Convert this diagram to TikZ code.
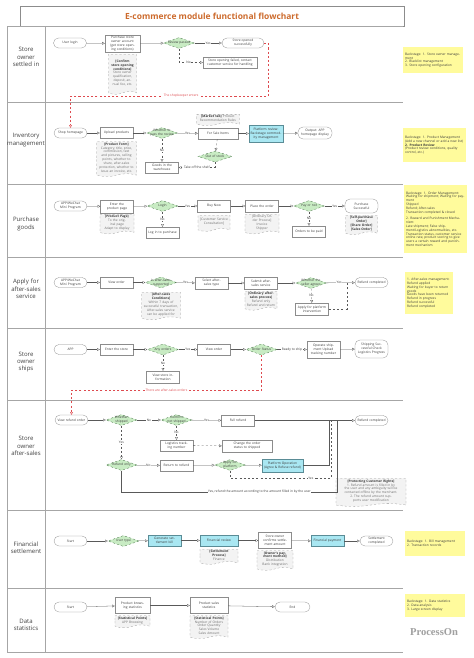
\documentclass[tikz,border=0pt]{standalone}
\usepackage{fontspec}
\setmainfont{Open Sans}
\newfontfamily\brandfont{Liberation Serif}
\usepackage{xcolor}
\usepackage{tikz}
\usetikzlibrary{shapes.geometric}
\usetikzlibrary{shapes.symbols}
\usetikzlibrary{arrows.meta}
\usetikzlibrary{positioning}

\definecolor{linegray}{HTML}{8C8C8C}
\definecolor{arrowgray}{HTML}{595959}
\definecolor{lanegray}{HTML}{A6A6A6}
\definecolor{txtgray}{HTML}{3A3A3A}
\definecolor{docgray}{HTML}{6E6E6E}
\definecolor{docline}{HTML}{9A9A9A}
\definecolor{docfill}{HTML}{F3F3F3}
\definecolor{checkgreen}{HTML}{C8EBC3}
\definecolor{checkline}{HTML}{3D6B3D}
\definecolor{syscyan}{HTML}{A9E7F2}
\definecolor{sysline}{HTML}{5A8C96}
\definecolor{noteyellow}{HTML}{FFFB9C}
\definecolor{enterred}{HTML}{DE4A4F}
\definecolor{titleorange}{HTML}{CC6A2C}
\definecolor{lanetext}{HTML}{404040}

\newcommand{\flowfont}{\fontsize{4.6}{5.5}\selectfont}
\newcommand{\lanefont}{\fontsize{8.6}{10.4}\selectfont}
\newcommand{\doctitle}[1]{\textcolor{txtgray}{\textbf{#1}}}

\begin{document}
\begin{tikzpicture}[x=0.5mm,y=-0.5mm,
	every node/.style={font=\flowfont, text=txtgray},
	term/.style={rectangle, rounded corners=2.5mm, draw=linegray, fill=white, text width=15mm, align=center, inner sep=0.4mm, minimum width=16.5mm, minimum height=5mm},
	proc/.style={rectangle, draw=linegray, fill=white, text width=15.5mm, align=center, inner sep=0.4mm, minimum width=16.5mm, minimum height=5.5mm},
	sys/.style={proc, fill=syscyan, draw=sysline},
	check/.style={diamond, aspect=3, draw=checkline, dashed, fill=checkgreen, text width=12mm, align=center, inner xsep=-2.5mm, inner ysep=-1.5mm, minimum width=15.5mm, minimum height=5.5mm},
	doc/.style={tape, tape bend top=none, tape bend height=1.4mm, draw=docline, dashed, fill=docfill, text=docgray, text width=15mm, align=center, inner sep=0.5mm, minimum width=16mm},
	note/.style={rectangle, fill=noteyellow, anchor=north west, align=left, inner sep=1mm},
	lane/.style={font=\lanefont, text=lanetext, text width=19mm, align=center},
	lbl/.style={fill=white, inner sep=0.2mm},
	flow/.style={draw=arrowgray, line width=0.4pt, -{Triangle[open, length=1.4mm, width=1.4mm]}},
	enter/.style={draw=enterred, dashed, line width=0.5pt, -{Triangle[open, length=1.4mm, width=1.4mm]}},
	red label/.style={fill=white, text=enterred, inner sep=0.3mm}
	]
	\useasboundingbox (0,0) rectangle (474,658);
	
	% Frame and lanes
	\draw[linegray, line width=0.8pt] (20,6) rectangle (404,26);
	\node[font=\fontsize{12}{14}\selectfont\bfseries, text=titleorange] (title) at (212,16) {E-commerce module functional flowchart};
	\draw[lanegray, line width=1pt] (7,26) -- (7,652);
	\draw[lanegray, line width=1pt] (45,26) -- (45,652);
	\foreach \y in {26,102,184,257,328,400,510,588,652}
		\draw[lanegray, line width=1pt] (7,\y) -- (403,\y);
	
	\node[lane] (lane1) at (26,57) {Store\\ owner\\ settled in};
	\node[lane] (lane2) at (26,140) {Inventory\\ management};
	\node[lane] (lane3) at (26,224) {Purchase\\ goods};
	\node[lane] (lane4) at (26,289) {Apply for\\ after-sales\\ service};
	\node[lane] (lane5) at (26,362) {Store\\ owner\\ ships};
	\node[lane] (lane6) at (26,446) {Store\\ owner\\ after-sales};
	\node[lane] (lane7) at (26,548) {Financial\\ settlement};
	\node[lane] (lane8) at (26,625) {Data\\ statistics};
	
	% Store owner settled in
	\node[term] (login) at (70,43) {User login};
	\node[proc, minimum width=17.5mm, text width=16mm, minimum height=8.5mm] (buyacct) at (122.5,43.5) {Purchase store owner account (get store opening conditions)};
	\node[doc, text width=13mm, minimum width=14mm, minimum height=20mm, below=1mm of buyacct] (confirmdoc) {\doctitle{[Confirm store opening conditions]}\\ Store owner qualification, deposit, annual fee, etc.};
	\node[check] (chk1) at (179,43) {Review passed};
	\node[term, minimum width=21mm, text width=15mm] (opened) at (243,43) {Store opened successfully};
	\node[proc, minimum width=27mm, text width=25mm] (failed) at (230,62.5) {Store opening failed, contact customer service for handling};
	\node[note, text width=28mm, minimum width=30mm, minimum height=13mm] (note1) at (403,47) {Backstage: 1. Store owner management\\ 2. Blacklist management\\ 3. Store opening configuration};
	
	\path[flow]
		(login) edge (buyacct)
		(buyacct) edge (chk1)
		(chk1) edge node[lbl] {Yes} (opened);
	\draw[flow, dashed] (chk1) |- node[lbl, pos=0.7] {No} (failed);
	
	% Inventory management
	\node[term] (home) at (70.5,133) {Shop homepage};
	\node[proc] (upload) at (116.5,133) {Upload products};
	\node[doc, minimum width=20mm, text width=18.5mm, below=1.5mm of upload] (formdoc) {\doctitle{[Product Form]} Category, title, price, commission, text and pictures, selling points, whether to share, after-sales protection, whether to issue an invoice, etc.};
	\node[check] (chk2) at (162,133) {Whether to pass the review};
	\node[proc, minimum width=20mm, text width=18mm] (onsale) at (218,133.5) {For Sale Items};
	\node[doc, minimum width=21.5mm, text width=20mm, above=2.5mm of onsale] (mktdoc) {\doctitle{[Market tab]} Product Recommendation Rules};
	\node[proc] (warehouse) at (162,167.5) {Goods in the warehouse};
	\node[check, minimum width=17mm] (chk3) at (215,156.5) {Out of stock};
	\node[sys, minimum width=17mm, minimum height=8.5mm] (review) at (266,133.5) {Platform review: Backstage commodity management};
	\node[term, minimum width=17mm, minimum height=6mm] (output) at (315,133) {Output: APP homepage display};
	\node[note, text width=29.5mm, minimum width=31.5mm, minimum height=17mm] (note2) at (403,128) {Backstage: 1. Product Management (Add a new channel or add a new list)\\ \textbf{2. Product Review}\\ (Product review conditions, quality control, etc.)};
	
	\draw[enter] (opened.east) -- ++(4,0) -- ++(0,53) -| node[red label, pos=0.22] {The shopkeeper enters} (home);
	
	\path[flow]
		(home) edge (upload)
		(upload) edge (chk2)
		(chk2) edge node[lbl] {Yes} (onsale)
		(onsale) edge (review)
		(review) edge (output);
	\path[flow, dashed]
		(chk2) edge node[lbl] {No} (warehouse)
		(onsale) edge (chk3);
	\draw[flow, dashed] (chk3) |- node[lbl, pos=0.75] {Take off the shelf} (warehouse);
	
	% Purchase goods
	\node[term] (app3) at (70.5,206) {APP/WeChat Mini Program};
	\node[proc, minimum height=6.5mm] (prodpage) at (117,206.5) {Enter the product page};
	\node[doc, minimum width=17mm, below=0.5mm of prodpage] (pagedoc) {\doctitle{[Product Page]}\\ To the original page\\ Adapt to display};
	\node[check] (chk4) at (162.5,206) {Login};
	\node[proc, minimum height=6mm] (buynow) at (214,206) {Buy Now};
	\node[doc, minimum height=8mm, below=1.5mm of buynow] (csdoc) {[Customer Service Consultation]};
	\node[proc] (loginbuy) at (162.5,232.5) {Log in to purchase};
	\node[proc, minimum height=6mm] (order) at (262,206) {Place the order};
	\node[doc, minimum width=17mm, below=1mm of order] (orddoc) {[Ordinary Order Process]\\ Invoice\\ Shipper};
	\node[check] (chk5) at (309,206) {Pay or not};
	\node[term, minimum height=7mm] (bought) at (361.5,206) {Purchase Successful};
	\node[doc, below=1mm of bought] (selfdoc) {\doctitle{[Self-purchase Order]}\\ \doctitle{[Share Order]}\\ \doctitle{[Sales Order]}};
	\node[proc] (unpaid) at (309,231.5) {Orders to be paid};
	\node[note, text width=29.5mm, minimum width=31.5mm, minimum height=34mm] (note3) at (404,185) {Backstage: 1. Order Management: Waiting for shipment; Waiting for payment\\ Shipped\\ Refund; After-sales\\ Transaction completed \& closed\\[1.2mm] 2. Reward and Punishment Mechanism:\\ Late shipment; False shipment/Logistics abnormalities, etc. Transaction status, customer service online rate, product scoring to give users a certain reward and punishment mechanism};
	
	\path[flow]
		(app3) edge (prodpage)
		(prodpage) edge (chk4)
		(chk4) edge node[lbl] {Yes} (buynow)
		(buynow) edge (order)
		(order) edge (chk5)
		(chk5) edge node[lbl] {Yes} (bought);
	\path[flow, dashed]
		(chk4) edge node[lbl] {No} (loginbuy)
		(chk5) edge node[lbl] {No} (unpaid);
	
	% Apply for after-sales service
	\node[term] (app4) at (70.5,282.5) {APP/WeChat Mini Program};
	\node[proc] (vieword) at (116.5,282.5) {View order};
	\node[check] (chk6) at (161,282.5) {Is after-sales supported};
	\node[doc, minimum width=19.5mm, text width=18mm, below=2mm of chk6] (asdoc) {\doctitle{[After-sales Conditions]}\\ Within 7 days of successful transaction, After-sales service can be applied for};
	\node[proc, minimum height=6mm] (seltype) at (211.5,283) {Select after-sales type};
	\node[proc, minimum height=6mm] (submit) at (261,283) {Submit after-sales service};
	\node[doc, below=1mm of submit] (asprocdoc) {\doctitle{[Ordinary after-sales process]}\\ Refund only\\ Refund and return};
	\node[check] (chk7) at (311,283) {Whether the seller agrees};
	\node[term] (refund4) at (371.5,282.5) {Refund completed};
	\node[proc, minimum height=6mm] (intervene) at (312,309) {Apply for platform intervention};
	\node[note, text width=22mm, minimum width=24mm, minimum height=21mm] (note4) at (405,272) {1. After-sales management: Refund applied\\ Waiting for buyer to return goods\\ Goods have been returned\\ Refund in progress\\ Refund successful\\ Refund completed};
	\coordinate (join4) at (347,283);
	
	\path[flow]
		(app4) edge (vieword)
		(vieword) edge (chk6)
		(chk6) edge node[lbl] {Yes} (seltype)
		(seltype) edge (submit)
		(submit) edge (chk7)
		(chk7) edge node[lbl, pos=0.45] {Yes} (refund4);
	\draw[flow, dashed] (chk7) -- node[lbl] {No} (intervene);
	\draw[arrowgray, dashed, line width=0.4pt] (intervene.east) -| (join4);
	
	% Store owner ships
	\node[term] (app5) at (70.5,349.5) {APP};
	\node[proc] (store) at (116.5,349.5) {Enter the store};
	\node[check] (chk8) at (163,349.5) {Any orders};
	\node[proc] (view5) at (214,349.5) {View order};
	\node[check] (chk9) at (261.5,349.5) {Order Status};
	\node[proc, minimum height=8.5mm] (ship) at (323.5,349.5) {Operate shipment Upload tracking number};
	\node[term, minimum height=9mm] (shipped) at (371.5,349) {Shipping Successful Check Logistics Progress};
	\node[proc, minimum height=6mm] (storeinfo) at (163,377) {View store information};
	
	\path[flow]
		(app5) edge (store)
		(store) edge (chk8)
		(chk8) edge node[lbl] {Yes} (view5)
		(view5) edge (chk9)
		(chk9) edge node[lbl] {Ready to ship} (ship)
		(ship) edge (shipped);
	\path[flow, dashed]
		(chk8) edge node[lbl] {No} (storeinfo);
	
	% Store owner after-sales
	\node[term] (refundord) at (71.5,420) {View refund order};
	\node[check] (chk10) at (121.5,420) {Whether shipped};
	\node[check] (chk11) at (176.5,420) {Confirm not shipped};
	\node[proc] (fullrefund) at (238,420.5) {Full refund};
	\node[term] (refund6) at (371.5,420.5) {Refund completed};
	\node[proc] (logno) at (176.5,445.5) {Logistics tracking number};
	\node[proc, minimum width=25mm, text width=23mm, minimum height=6mm] (chgstatus) at (247,446) {Change the order status to shipped};
	\node[check] (chk12) at (121.5,465) {Refund only};
	\node[proc] (retref) at (176.5,465.5) {Return to refund};
	\node[check] (chk13) at (230,465) {Apply for platform};
	\node[sys, minimum width=20.5mm, text width=19mm, minimum height=6.5mm] (platop) at (282.5,465.5) {Platform Operation (Agree \& Refuse refund)};
	\node[doc, minimum width=35mm, text width=33mm, minimum height=14mm] (rightsdoc) at (371,491) {\doctitle{[Protecting Customer Rights]}\\ 1.\ Refund amount is filled in by the user and any ambiguity will be contacted offline by the merchant.\\ 2.\ The refund amount supports user modification};
	\coordinate (join6) at (329,420.5);
	\coordinate (yes13) at (331,478);
	\coordinate (amt6) at (337,492);
	
	\draw[enter] (chk9.south) -- ++(0,35) -| node[red label, pos=0.25] {There are after-sales orders} (refundord);
	
	\path[flow]
		(refundord) edge (chk10)
		(chk10) edge node[lbl] {No} (chk11)
		(chk11) edge node[lbl] {Yes} (fullrefund)
		(fullrefund) edge (refund6)
		(chk12) edge node[lbl] {No} (retref)
		(retref) edge (chk13)
		(chk13) edge (platop);
	\path[flow, dashed]
		(chk11) edge node[lbl] {No} (logno)
		(logno) edge (chgstatus)
		(chk10) edge node[lbl] {Yes} (chk12);
	\draw[arrowgray, line width=0.4pt] (platop) -| (join6);
	\draw[arrowgray, dashed, line width=0.4pt] (chk13.south) |- node[lbl, pos=0.9] {Yes} (yes13) -- (yes13 |- join6);
	\draw[arrowgray, line width=0.4pt] (chk12.south) |- node[lbl, pos=0.82] {Yes, refund the amount according to the amount filled in by the user} (amt6) -- (amt6 |- join6);
	
	% Financial settlement
	\node[term] (start7) at (70.5,541) {Start};
	\node[check] (chk14) at (123.5,541) {User type};
	\node[sys] (genbill) at (164.5,540.5) {Generate settlement bill};
	\node[sys, minimum width=19mm] (finreview) at (219,540.5) {Financial review};
	\node[doc, minimum width=19mm, below=1.5mm of finreview] (setdoc) {\doctitle{[Settlement Process]}\\ Finance};
	\node[proc, minimum height=8mm] (confirm) at (275,540.5) {Store owner confirms settlement amount};
	\node[doc, minimum width=18mm, below=1mm of confirm] (paydoc) {\doctitle{[Owner's payment method]}\\ Distribution\\ Bank integration};
	\node[sys] (finpay) at (327.5,541) {Financial payment};
	\node[term] (settled) at (376.5,541) {Settlement completed};
	\node[note, text width=28mm, minimum width=30mm, minimum height=12.5mm] (note7) at (405,531) {Backstage: 1. Bill management\\ 2. Transaction records};
	
	\path[flow]
		(start7) edge (chk14)
		(chk14) edge (genbill)
		(genbill) edge (finreview)
		(finreview) edge (confirm)
		(confirm) edge (finpay)
		(finpay) edge (settled);
	
	% Data statistics
	\node[term] (start8) at (70.5,607) {Start};
	\node[proc, minimum width=17.5mm, text width=14mm, minimum height=8mm] (browse) at (132.5,605.5) {Product browsing statistics};
	\node[doc, minimum width=17.5mm, below=1mm of browse] (browsedoc) {\doctitle{[Statistical Points]}\\ APP Browsing};
	\node[proc, minimum width=19mm, text width=14mm, minimum height=8mm] (salestat) at (209,605.5) {Product sales statistics};
	\node[doc, minimum width=19mm, below=1mm of salestat] (salesdoc) {\doctitle{[Statistical Points]}\\ Number of Orders\\ Order Quantity\\ Sales Volume\\ Sales Amount};
	\node[term, minimum width=17.5mm] (finish) at (292.5,607) {End};
	\node[note, text width=28mm, minimum width=30mm, minimum height=11.5mm] (note8) at (405,594) {Backstage: 1. Data statistics\\ 2. Data analysis\\ 3. Large screen display};
	
	\path[flow]
		(start8) edge (browse)
		(browse) edge (salestat)
		(salestat) edge (finish);
	
	\node[font=\brandfont\fontsize{15}{15}\selectfont\bfseries, text=gray!75] (brand) at (434,632) {ProcessOn};
	
\end{tikzpicture}
\end{document}
